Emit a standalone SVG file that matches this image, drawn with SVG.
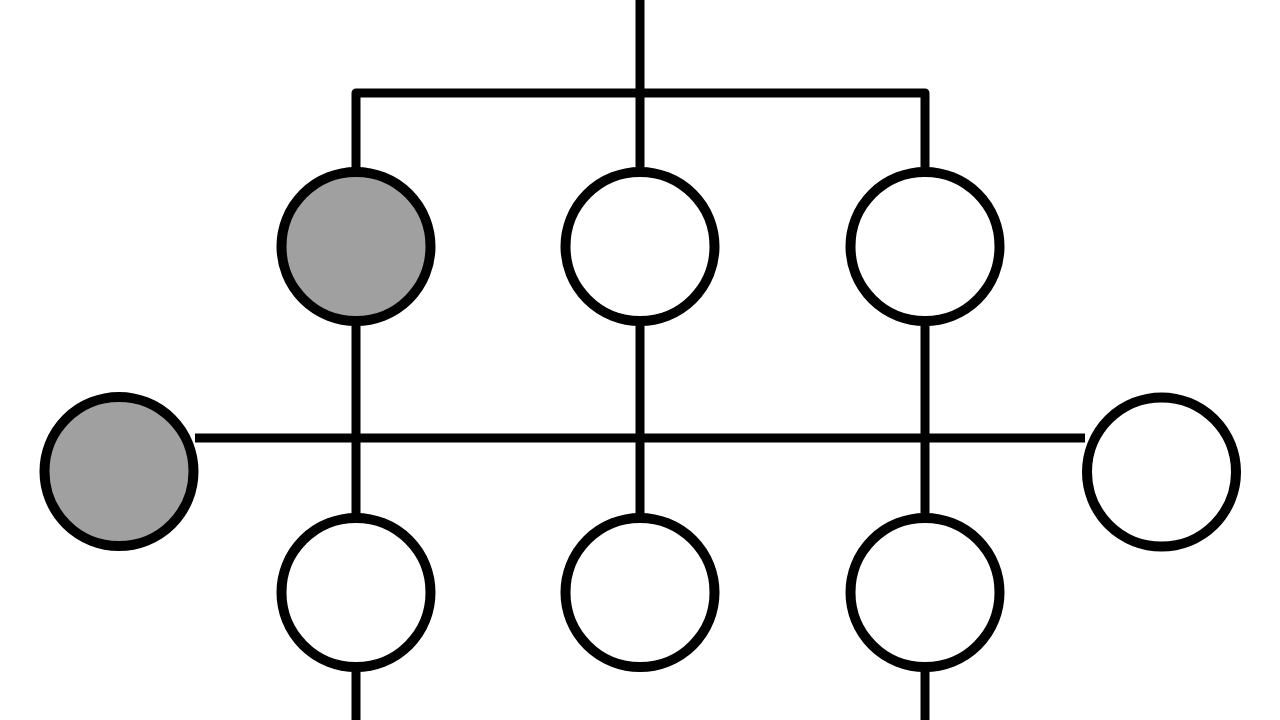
<svg xmlns="http://www.w3.org/2000/svg" width="1280" height="720" viewBox="0 0 1280 720">
<style>
.edge{fill:none;stroke:#000;stroke-width:9;stroke-linejoin:round}
.node{stroke:#000;stroke-width:10}
.w{fill:#fff}
.g{fill:#a0a0a0}
</style>
<rect width="1280" height="720" fill="#fff"/>
<g id="connectors">
<path class="edge" d="M640,0V170"/>
<path class="edge" d="M356,170V93H925V170"/>
<path class="edge" d="M356,322V518"/>
<path class="edge" d="M640,322V518"/>
<path class="edge" d="M925,322V518"/>
<path class="edge" d="M195,438H1085"/>
<path class="edge" d="M356,667V720"/>
<path class="edge" d="M925,667V720"/>
</g>
<g id="n1"><circle class="node g" cx="356" cy="246.5" r="74.5"/></g>
<g id="n2"><circle class="node w" cx="640" cy="246.5" r="74.5"/></g>
<g id="n3"><circle class="node w" cx="925" cy="246.5" r="74.5"/></g>
<g id="n4"><circle class="node g" cx="119" cy="471.5" r="74.5"/></g>
<g id="n5"><circle class="node w" cx="1161.5" cy="472" r="74.5"/></g>
<g id="n6"><circle class="node w" cx="356" cy="592.5" r="74.5"/></g>
<g id="n7"><circle class="node w" cx="640" cy="592.5" r="74.5"/></g>
<g id="n8"><circle class="node w" cx="925" cy="592.5" r="74.5"/></g>
</svg>
